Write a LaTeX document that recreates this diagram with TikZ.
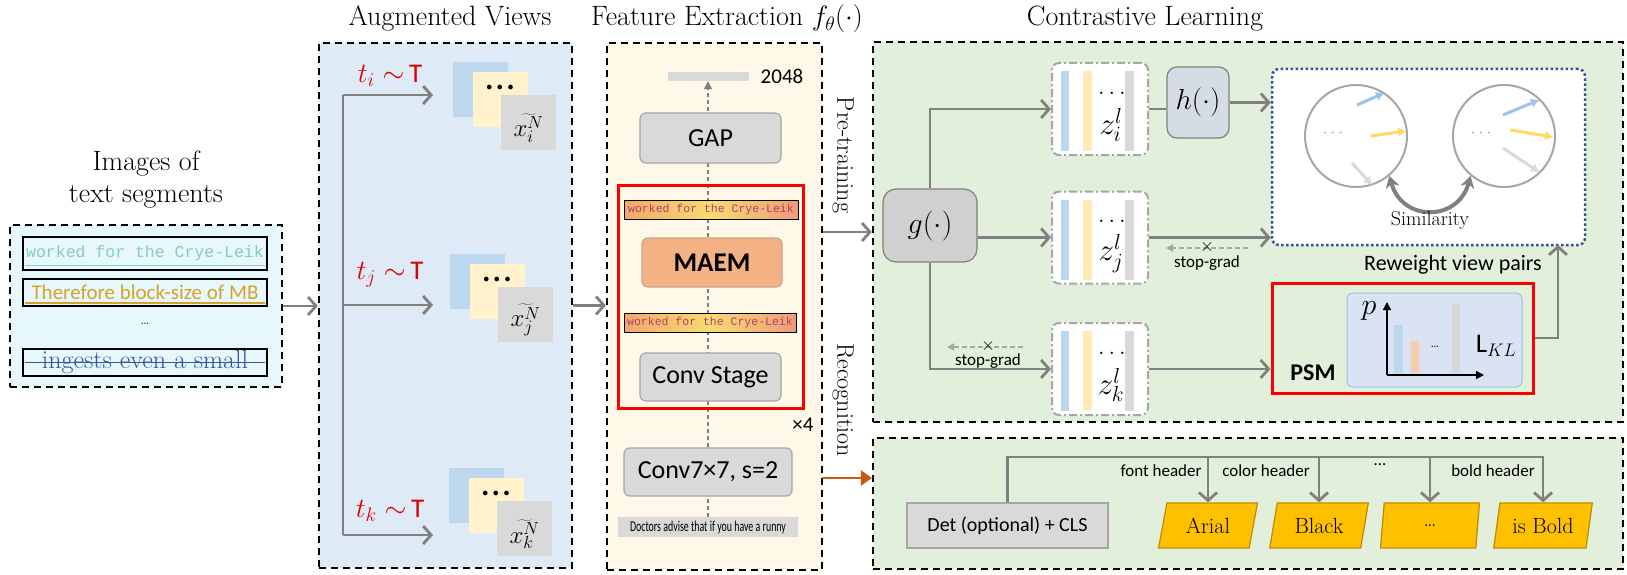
\RequirePackage{fix-cm}
\documentclass[tikz,border=0pt]{standalone}
\usepackage{fontspec}
\newfontfamily\carlito{Carlito}
\newfontfamily\monof{Liberation Mono}
\usetikzlibrary{arrows.meta,shapes.geometric,calc}
\newcommand\fsz[1]{\fontsize{#1}{#1}\selectfont}
\definecolor{agrey}{HTML}{808080}
\definecolor{leftfill}{HTML}{E6F8FC}
\definecolor{augfill}{HTML}{DEEBF7}
\definecolor{featfill}{HTML}{FEF8E8}
\definecolor{clfill}{HTML}{E2EFDA}
\definecolor{sqblue}{HTML}{BDD7EE}
\definecolor{sqyellow}{HTML}{FFF2CC}
\definecolor{baryellow}{HTML}{FFEBB8}
\definecolor{sqgrey}{HTML}{D9D9D9}
\definecolor{sgrey}{HTML}{A6A6A6}
\definecolor{maem}{HTML}{F4B183}
\definecolor{maemborder}{HTML}{C9A58A}
\definecolor{hfill}{HTML}{D6DCE5}
\definecolor{gfill}{HTML}{D0D0D0}
\definecolor{simborder}{HTML}{2F5597}
\definecolor{psmfill}{HTML}{DAE3F3}
\definecolor{psmborder}{HTML}{9DC3E6}
\definecolor{parfill}{HTML}{FFC000}
\definecolor{parborder}{HTML}{BF9000}
\definecolor{orangearr}{HTML}{C55A11}
\definecolor{tealtxt}{HTML}{8ACBB9}
\definecolor{goldtxt}{HTML}{D6A22A}
\definecolor{bluetxt}{HTML}{3557A5}
\definecolor{barorange}{HTML}{F8CBAD}
\definecolor{arrblue}{HTML}{9DC3E6}
\definecolor{arryellow}{HTML}{FFD966}
\definecolor{redt}{HTML}{E00000}
\definecolor{heatA}{HTML}{F2A86A}
\definecolor{heatB}{HTML}{F7DC72}
\definecolor{heatC}{HTML}{EE9A7A}
\definecolor{heattxt}{HTML}{B0406A}
\newcommand\viewstack[4]{%
  \node[sq, fill=sqblue] (#1b) at (#2+27.5,#3+27.5) {};
  \node[sq, fill=sqyellow] (#1y) at (#2+47.5,#3+37.5) {};
  \node[sq, fill=sqgrey] (#1g) at (#2+75.5,#3+60.5) {};
  \node[inner sep=0pt] (#1d) at (#2+47,#3+26) {\fsz{12}$\bullet\,\bullet\,\bullet$};
  \node[inner sep=0pt] (#1l) at (#2+75.5,#3+66) {\fsz{25}$\widetilde{x_{#4}^{N}}$};
}
\newcommand\zcontent[4]{%
  \node[zb] (#1) at (#2,#3) {};
  \fill[sqblue] (#2-39,#3-38) rectangle (#2-31,#3+42);
  \fill[baryellow] (#2-17,#3-38) rectangle (#2-8,#3+42);
  \fill[sqgrey] (#2+25,#3-38) rectangle (#2+34,#3+42);
  \node[inner sep=0pt] (#1d) at (#2+12,#3-16) {\fsz{24}$\dots$};
  \node[inner sep=0pt] (#1l) at (#2+11,#3+16) {\fsz{31}$z_{#4}^{l}$};
}
\begin{document}
\begin{tikzpicture}[x=1pt,y=-1pt,
  panel/.style={draw=black, line width=2.2pt, dash pattern=on 7pt off 5pt, inner sep=0pt},
  arr/.style={draw=agrey, line width=2.8pt, -{Straight Barb[length=8pt,width=18pt]}},
  ln/.style={draw=agrey, line width=2.8pt},
  sq/.style={minimum width=55, minimum height=55, inner sep=0pt},
  gbox/.style={draw=sgrey, fill=sqgrey, line width=1.2pt, rounded corners=6pt, inner sep=0pt, font=\carlito\fsz{26}},
  tbox/.style={draw=black, line width=2pt, minimum width=244, inner sep=0pt},
  heat/.style={draw=black, line width=1pt, left color=heatA, right color=heatC, middle color=heatB, minimum height=19, inner sep=0pt, font=\monof\fsz{11.5}\color{heattxt}},
  zb/.style={draw=sgrey, line width=2pt, dash pattern=on 8pt off 3pt on 2pt off 3pt, rounded corners=7pt, fill=white, minimum width=96, minimum height=92, inner sep=0pt},
  sg/.style={draw=sgrey, line width=1.6pt, dash pattern=on 5pt off 3pt, -{Triangle[length=7pt,width=7pt]}},
  sgt/.style={font=\carlito\fsz{17}, inner sep=0pt},
  par/.style={trapezium, trapezium left angle=74, trapezium right angle=106, trapezium stretches=true, draw=parborder, fill=parfill, line width=1.3pt, minimum width=99, minimum height=45, inner sep=0pt, font=\fsz{22}},
  hdr/.style={font=\carlito\fsz{17}, inner sep=0pt},
  ttl/.style={font=\fsz{28}, anchor=base, inner sep=0pt},
  cvec/.style={line width=3pt, -{Triangle[length=8pt,width=8pt]}}
]
\useasboundingbox (0,0) rectangle (1627,575);

% ---------- titles ----------
\node[ttl] (t0a) at (146,170) {Images of};
\node[ttl] (t0b) at (146,202) {text segments};
\node[ttl] (t1) at (450,26) {Augmented Views};
\node[ttl] (t2) at (727,26) {Feature Extraction $f_\theta(\cdot)$};
\node[ttl] (t3) at (1145,26) {Contrastive Learning};

% ---------- left panel ----------
\node[panel, fill=leftfill, minimum width=272, minimum height=162] (left) at (146,306) {};
\node[tbox, minimum height=33] (s1) at (145,253.5) {\monof\fsz{16.5}\color{tealtxt}worked for the Crye-Leik};
\node[tbox, minimum height=27] (s2) at (145,292.5) {\carlito\fsz{21}\color{goldtxt}Therefore block-size of MB};
\node (sdots) at (145,324) {\fsz{16}\dots};
\node[tbox, minimum height=27] (s3) at (145,362.5) {\fsz{26}\color{bluetxt}ingests even a small};
\draw[tealtxt, line width=1pt] ($(s1.south west)+(3,-6)$) -- ($(s1.south east)+(-3,-6)$);
\draw[goldtxt, line width=1.5pt] ($(s2.south west)+(3,-4)$) -- ($(s2.south east)+(-3,-4)$);
\draw[bluetxt, line width=1.5pt] ($(s3.west)+(3,0)$) -- ($(s3.east)+(-3,0)$);

% ---------- augmented views ----------
\node[panel, fill=augfill, minimum width=253, minimum height=525] (aug) at (445.5,305.5) {};
\draw[arr] (left.east) -- (left.east -| aug.west);
\coordinate (vt) at (343,95);
\coordinate (vm) at (343,305);
\coordinate (vb) at (343,535);
\coordinate (ai) at (433,95);
\coordinate (aj) at (433,305);
\coordinate (ak) at (433,535);
\draw[ln] (vt) -- (vb);
\draw[arr] (vt) -- (ai);
\draw[arr] (vm) -- (aj);
\draw[arr] (vb) -- (ak);
\node (ti) at (390,76) {\color{redt}\fsz{28}$t_i\sim$\,{\carlito\fsz{27}T}};
\node (tj) at (390,275) {\color{redt}\fsz{28}$t_j\sim$\,{\carlito\fsz{27}T}};
\node (tk) at (390,511) {\color{redt}\fsz{28}$t_k\sim$\,{\carlito\fsz{27}T}};
\viewstack{vi}{453}{62}{i}
\viewstack{vj}{450}{254}{j}
\viewstack{vk}{449}{468}{k}

% ---------- feature extraction ----------
\node[panel, fill=featfill, minimum width=215, minimum height=527] (feat) at (714.5,306.5) {};
\draw[arr] (aug.east) -- (aug.east -| feat.west);
\node[fill=sqgrey, minimum width=81, minimum height=9, inner sep=0pt] (bar) at (708,76.5) {};
\node[font=\carlito\fsz{21}] (n2048) at (782,76) {2048};
\node[fill=sqgrey, minimum width=180, minimum height=20, inner sep=0pt] (doc) at (708,527) {};
\draw[draw=agrey, line width=1.3pt, dash pattern=on 4pt off 3pt, -{Triangle[length=8pt,width=8pt]}] (doc.north) -- (doc.north |- bar.south);
\node[inner sep=0pt] (doct) at (708,527) {\scalebox{0.66}[1]{\carlito\fsz{15}Doctors advise that if you have a runny}};
\node[gbox, minimum width=141, minimum height=50] (gap) at (710.5,138) {GAP};
\node[draw=red, line width=3pt, minimum width=185, minimum height=223, inner sep=0pt] (red) at (710.5,296.5) {};
\node[heat, minimum width=174] (h1) at (711,209.5) {worked for the Crye-Leik};
\node[gbox, fill=maem, draw=maemborder, minimum width=140, minimum height=49, font=\carlito\bfseries\fsz{27}] (maem) at (712,262.5) {MAEM};
\node[heat, minimum width=172] (h2) at (710,322.5) {worked for the Crye-Leik};
\node[gbox, minimum width=141, minimum height=48] (cs) at (710.5,377) {Conv Stage};
\node[font=\carlito\fsz{21}] (x4) at (803,425) {×4};
\node[gbox, minimum width=168, minimum height=48] (c7) at (708,472) {Conv7×7, s=2};

% ---------- contrastive learning ----------
\node[panel, fill=clfill, minimum width=750, minimum height=380] (cl) at (1248,232) {};
\node[panel, fill=clfill, minimum width=750, minimum height=131] (rec) at (1248,503.5) {};
\draw[arr] (feat.east |- cl.west) -- (cl.west);
\coordinate (ro) at (822,478);
\draw[draw=orangearr, line width=2.8pt, -{Triangle[length=11pt,width=15pt]}] (ro) -- (ro -| rec.west);
\node[rotate=-90, font=\fsz{24}] (pt) at (843,155) {Pre-training};
\node[rotate=-90, font=\fsz{24}] (rg) at (843,400) {Recognition};

\node[draw=agrey, fill=gfill, line width=1.2pt, rounded corners=13pt, minimum width=94, minimum height=73, inner sep=0pt] (g) at (930,225.5) {\fsz{30}$g(\cdot)$};
\zcontent{zi}{1100}{109}{i}
\zcontent{zj}{1100}{237.5}{j}
\zcontent{zk}{1100}{369}{k}
\draw[arr] (g.north) |- (zi.west);
\draw[arr] (g.east |- zj.west) -- (zj.west);
\draw[arr] (g.south) |- (zk.west);
\node[draw=agrey, fill=hfill, line width=1.2pt, rounded corners=10pt, minimum width=62, minimum height=71, inner sep=0pt] (h) at (1198,102.5) {\fsz{29}$h(\cdot)$};
\draw[ln] (zi.east) -- (zi.east -| h.west);

\node[draw=simborder, line width=2.5pt, dash pattern=on 2.5pt off 2.5pt, rounded corners=7pt, fill=white, minimum width=313, minimum height=176, inner sep=0pt] (sim) at (1428.5,157) {};
\draw[arr] (h.east) -- (h.east -| sim.west);
\draw[arr] (zj.east) -- (zj.east -| sim.west);
\coordinate (sgj1) at (1248,248);
\coordinate (sgj2) at (1166,248);
\draw[sg] (sgj1) -- (sgj2);
\node[font=\fsz{18}, inner sep=0pt] (xj) at (1207,247) {$\times$};
\node[sgt] (sgjt) at (1207,263) {stop-grad};
\coordinate (sgk1) at (1023,347);
\coordinate (sgk2) at (947,347);
\draw[sg] (sgk1) -- (sgk2);
\node[font=\fsz{18}, inner sep=0pt] (xk) at (988,346) {$\times$};
\node[sgt] (sgkt) at (988,361) {stop-grad};

% circles
\node[circle, draw=sgrey, line width=2pt, minimum size=102, inner sep=0pt] (c1) at (1356,136) {};
\node[circle, draw=sgrey, line width=2pt, minimum size=102, inner sep=0pt] (c2) at (1504,136) {};
\draw[cvec, arrblue] (1357,105) -- (1384,93);
\draw[cvec, arryellow] (1371,136) -- (1406,131);
\draw[cvec, sqgrey] (1352,163) -- (1372,185);
\draw[cvec, arrblue] (1503,115) -- (1539,100);
\draw[cvec, arryellow] (1510,130) -- (1553,137);
\draw[cvec, sqgrey] (1503,148) -- (1539,172);
\node[text=sgrey] (cd1) at (1333,134) {\fsz{18}$\cdots$};
\node[text=sgrey] (cd2) at (1481,134) {\fsz{18}$\cdots$};
\draw[draw=agrey, line width=4pt, {Stealth[length=12pt,width=14pt]}-{Stealth[length=12pt,width=14pt]}] (c1.-50) .. controls (1402,222) and (1458,222) .. (c2.230);
\node[font=\fsz{20}] (simt) at (1430,221) {Similarity};
\node[font=\carlito\fsz{22}] (rw) at (1453,265) {Reweight view pairs};

% PSM
\node[draw=red, line width=3pt, minimum width=261, minimum height=110, inner sep=0pt] (psm) at (1402.5,338) {};
\node[draw=psmborder, fill=psmfill, line width=1pt, rounded corners=6pt, minimum width=175, minimum height=94, inner sep=0pt] (psmin) at (1434.5,340) {};
\node[font=\carlito\bfseries\fsz{24}] (psmt) at (1313,373) {PSM};
\coordinate (ax) at (1387,375);
\fill[sqblue] (1394,325) rectangle (1403,373);
\fill[barorange] (1411,341) rectangle (1419,373);
\fill[sqgrey] (1452,303) rectangle (1460,373);
\draw[line width=1.5pt, -{Triangle[length=8pt,width=8pt]}] (ax) -- (1387,302);
\draw[line width=1.5pt, -{Triangle[length=8pt,width=8pt]}] (ax) -- (1484,375);
\node (pp) at (1369,311) {\fsz{30}$p$};
\node (pd) at (1435,347) {\fsz{16}\dots};
\node[font=\fsz{26}] (lkl) at (1496,346) {{\carlito\fsz{27}L}$_{KL}$};
\draw[arr] (zk.east) -- (zk.east -| psm.west);
\coordinate (rwc) at (1558,245);
\draw[arr] (psm.east) -| (rwc);

% ---------- recognition ----------
\node[draw=sgrey, fill=sqgrey, line width=1.2pt, minimum width=201, minimum height=45, inner sep=0pt, font=\carlito\fsz{20}] (det) at (1007.5,525.5) {Det (optional) + CLS};
\node[par] (arial) at (1208,525.5) {Arial};
\node[par] (black) at (1319,525.5) {Black};
\node[par] (pdots) at (1430,525.5) {\dots};
\node[par] (bold) at (1543,525.5) {is Bold};
\coordinate (trow) at (1007.5,457);
\draw[arr] (det.north) -- (trow) -| (bold.north);
\draw[arr] (trow -| arial.north) -- (arial.north);
\draw[arr] (trow -| black.north) -- (black.north);
\draw[arr] (trow -| pdots.north) -- (pdots.north);
\node[hdr] (fh) at (1161,471) {font header};
\node[hdr] (ch) at (1266,471) {color header};
\node[hdr] (dh) at (1380,465) {\dots};
\node[hdr] (bh) at (1493,471) {bold header};
\end{tikzpicture}
\end{document}
